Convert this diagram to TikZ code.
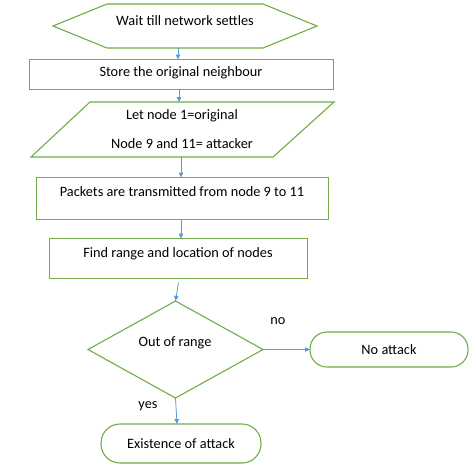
\documentclass[tikz,border=0pt]{standalone}
\usepackage{fontspec}
\setmainfont{Carlito}
\usetikzlibrary{arrows.meta,calc}
\definecolor{fgreen}{HTML}{70AD47}
\definecolor{fblue}{HTML}{5B9BD5}
\begin{document}
\begin{tikzpicture}[x=1pt,y=-1pt,
  font=\fontsize{14.3}{16}\selectfont,
  box/.style={rectangle,inner sep=0pt,outer sep=0pt},
  outline/.style={draw=fgreen,line width=1.1pt},
  txt/.style={inner sep=0pt,text=black},
  flow/.style={draw=fblue,line width=0.8pt,-{Triangle[length=5pt,width=4.5pt]}}]
\useasboundingbox[fill=white] (0,0) rectangle (474,467);

% shapes
\node[box,minimum width=264pt,minimum height=44pt] (n1) at (185,26) {};
\draw[outline] (n1.west) -- ([xshift=54pt]n1.north west) -- ([xshift=-54pt]n1.north east)
  -- (n1.east) -- ([xshift=-54pt]n1.south east) -- ([xshift=54pt]n1.south west) -- cycle;
\node[txt] (t1) at (185,21) {Wait till network settles};

\node[box,outline,minimum width=304pt,minimum height=30pt] (n2) at (181.5,74.5) {};
\node[txt] (t2) at (181,73) {Store the original neighbour};

\node[box,minimum width=303pt,minimum height=55pt] (n3) at (182.5,129.5) {};
\draw[outline] ([xshift=59pt]n3.north west) -- (n3.north east)
  -- ([xshift=-61pt]n3.south east) -- (n3.south west) -- cycle;
\node[txt] (t3a) at (182,116) {Let node 1=original};
\node[txt] (t3b) at (182,144) {Node 9 and 11= attacker};

\node[box,outline,minimum width=292pt,minimum height=42pt] (n4) at (182.5,198.5) {};
\node[txt] (t4) at (182,192) {Packets are transmitted from node 9 to 11};

\node[box,outline,minimum width=258pt,minimum height=40pt] (n5) at (178.5,258.5) {};
\node[txt] (t5) at (178,254) {Find range and location of nodes};

\node[box,minimum width=175pt,minimum height=97pt] (d) at (175.5,349.5) {};
\draw[outline] (d.north) -- (d.east) -- (d.south) -- (d.west) -- cycle;
\node[txt] (td) at (175,343) {Out of range};

\node[box,outline,rounded corners=17pt,minimum width=158pt,minimum height=35pt] (na) at (389,349.5) {No attack};

\node[box,outline,rounded corners=19pt,minimum width=160pt,minimum height=39pt] (ex) at (181,443.5) {Existence of attack};

% labels
\node[txt] (lno) at (278,321) {no};
\node[txt] (lyes) at (148,406) {yes};

% connectors
\draw[flow] ([xshift=-7pt]n1.south) -- ([xshift=-7pt]n1.south |- n2.north);
\draw[flow] ([xshift=-2.5pt]n2.south) -- ([xshift=-2.5pt]n2.south |- n3.north);
\draw[flow] ([xshift=-1.5pt]n3.south) -- ([xshift=-1.5pt]n3.south |- n4.north);
\draw[flow] ([xshift=-1.5pt]n4.south) -- ([xshift=-1.5pt]n4.south |- n5.north);
\draw[flow] ([yshift=-4pt]n5.south) -- (d.north);
\draw[flow] (d.east) -- (na.west);
\draw[flow] (d.south) -- ([xshift=-4pt]ex.north);
\end{tikzpicture}
\end{document}
